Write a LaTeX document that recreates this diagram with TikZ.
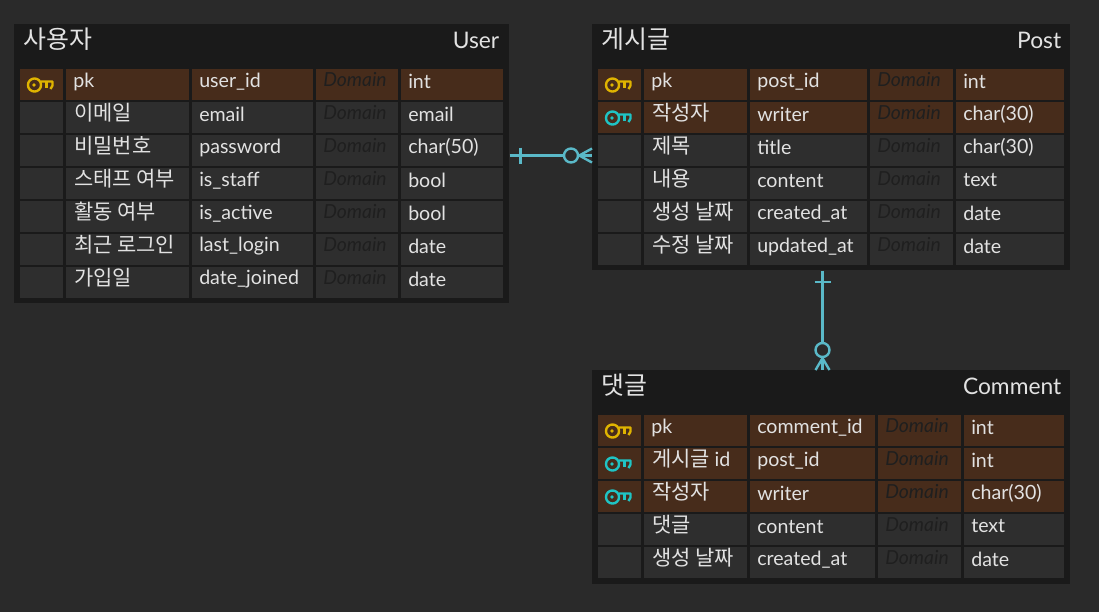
\documentclass[tikz,border=0pt]{standalone}
\usepackage{fontspec}
\setmainfont{Lato}
\newfontfamily\krfont{Noto Sans CJK KR}
\definecolor{bgc}{HTML}{2A2A2A}
\definecolor{framec}{HTML}{1A1A1A}
\definecolor{rowc}{HTML}{2E2E2E}
\definecolor{hic}{HTML}{472C1B}
\definecolor{txtc}{HTML}{E2E2E2}
\definecolor{domc}{HTML}{1F1F1F}
\definecolor{linkc}{HTML}{5AB9C8}
\definecolor{goldc}{HTML}{E0B400}
\definecolor{tealc}{HTML}{1FC4C4}
\newcommand{\latword}[1]{{\rmfamily\fontsize{14.7pt}{16pt}\selectfont #1}}
\tikzset{
  x=0.75pt,y=-0.75pt,
  frame/.style={fill=framec,draw=none,inner sep=0pt,anchor=north west},
  cell/.style={fill=#1,draw=none,inner sep=0pt,outer sep=0pt,anchor=north west,minimum height=23.25pt},
  lat/.style={text=txtc,inner sep=0pt,anchor=west,font=\fontsize{14.7pt}{16pt}\selectfont},
  kor/.style={text=txtc,inner sep=0pt,anchor=west,font=\krfont\fontsize{15.7pt}{16pt}\selectfont},
  dom/.style={text=domc,inner sep=0pt,anchor=west,font=\itshape\fontsize{14.5pt}{16pt}\selectfont},
  titk/.style={text=txtc,inner sep=0pt,anchor=west,font=\krfont\fontsize{18.7pt}{20pt}\selectfont},
  tite/.style={text=txtc,inner sep=0pt,anchor=east,font=\fontsize{17.1pt}{20pt}\selectfont},
  link/.style={draw=linkc,line width=1.8pt},
  keyline/.style={line width=1.8pt,line join=round},
}
% \keyicon{colour}{x}{y}: x,y = left of the bow, centre height
\newcommand{\keyicon}[3]{%
  \begin{scope}[shift={(#2,#3)},draw=#1,keyline]
    \draw (7.5,0) circle [radius=4.9pt];
    \fill[#1] (7,0) circle [radius=1.4pt];
    \draw (14,-3.5) -- (25.5,-3.5) -- (25.5,0.5) -- (23.5,4);
    \draw (19.5,-3.5) -- (19.5,2.5);
  \end{scope}}
% \tblrow{id}{y}{rowfill}{korean}{english}{type}
\newcommand{\tblrow}[6]{%
  \node[cell=#3,minimum width=\cwa*0.75pt] (#1-key) at (\cxa,#2) {};
  \node[cell=#3,minimum width=\cwb*0.75pt] (#1-log) at (\cxb,#2) {};
  \node[cell=#3,minimum width=\cwc*0.75pt] (#1-phy) at (\cxc,#2) {};
  \node[cell=#3,minimum width=\cwd*0.75pt] (#1-dom) at (\cxd,#2) {};
  \node[cell=#3,minimum width=\cwe*0.75pt] (#1-typ) at (\cxe,#2) {};
  \node[kor] (#1-kt) at (\cxb+8,#2+11) {#4};
  \node[lat] (#1-et) at (\cxc+7,#2+12.5) {#5};
  \node[dom] (#1-dt) at (\cxd+7,#2+11) {Domain};
  \node[lat] (#1-tt) at (\cxe+7,#2+12) {#6};
}
% a row whose logical name is the Latin word "pk"
\newcommand{\pkrow}[5]{%
  \tblrow{#1}{#2}{#3}{}{#4}{#5}
  \node[lat] (#1-pk) at (\cxb+7,#2+12.5) {pk};
}
\newcommand{\setcols}[5]{%
  \def\cxa{#1}\def\cxb{#2}\def\cxc{#3}\def\cxd{#4}\def\cxe{#5}%
}
\newcommand{\setwidths}[5]{%
  \def\cwa{#1}\def\cwb{#2}\def\cwc{#3}\def\cwd{#4}\def\cwe{#5}%
}
\begin{document}
\begin{tikzpicture}
\useasboundingbox (0,0) rectangle (1099,612);
\fill[bgc] (0,0) rectangle (1099,612);

% ---------- User
\node[frame,minimum width=371.25pt,minimum height=209.25pt] (user) at (14,24) {};
\node[titk] (user-tk) at (23,39) {사용자};
\node[tite] (user-te) at (499.5,40) {User};
\setcols{20}{66}{192}{316}{401}\setwidths{43}{123}{121}{82}{102}
\pkrow{u1}{69}{hic}{user\_id}{int}
\tblrow{u2}{102}{rowc}{이메일}{email}{email}
\tblrow{u3}{135}{rowc}{비밀번호}{password}{char(50)}
\tblrow{u4}{168}{rowc}{스태프 여부}{is\_staff}{bool}
\tblrow{u5}{201}{rowc}{활동 여부}{is\_active}{bool}
\tblrow{u6}{234}{rowc}{최근 로그인}{last\_login}{date}
\tblrow{u7}{267}{rowc}{가입일}{date\_joined}{date}
\keyicon{goldc}{27}{85}

% ---------- Post
\node[frame,minimum width=358.5pt,minimum height=184.5pt] (post) at (592,24) {};
\node[titk] (post-tk) at (601,39) {게시글};
\node[tite] (post-te) at (1061.5,40) {Post};
\setcols{598}{644}{750}{870}{956}\setwidths{43}{103}{117}{83}{108}
\pkrow{p1}{69}{hic}{post\_id}{int}
\tblrow{p2}{102}{hic}{작성자}{writer}{char(30)}
\tblrow{p3}{135}{rowc}{제목}{title}{char(30)}
\tblrow{p4}{168}{rowc}{내용}{content}{text}
\tblrow{p5}{201}{rowc}{생성 날짜}{created\_at}{date}
\tblrow{p6}{234}{rowc}{수정 날짜}{updated\_at}{date}
\keyicon{goldc}{605}{85}
\keyicon{tealc}{605}{118}

% ---------- Comment
\node[frame,minimum width=358.5pt,minimum height=160.5pt] (comment) at (592,370) {};
\node[titk] (comment-tk) at (601,385) {댓글};
\node[tite] (comment-te) at (1061.5,386) {Comment};
\setcols{598}{644}{750}{878}{964}\setwidths{43}{103}{125}{83}{100}
\pkrow{c1}{415}{hic}{comment\_id}{int}
\tblrow{c2}{448}{hic}{게시글 \latword{id}}{post\_id}{int}
\tblrow{c3}{481}{hic}{작성자}{writer}{char(30)}
\tblrow{c4}{514}{rowc}{댓글}{content}{text}
\tblrow{c5}{547}{rowc}{생성 날짜}{created\_at}{date}
\keyicon{goldc}{605}{431}
\keyicon{tealc}{605}{464}
\keyicon{tealc}{605}{497}

% ---------- Relation User - Post
\coordinate (r1a) at (user.east |- 0,155.5);
\coordinate (r1b) at (post.west |- 0,155.5);
\node[circle,draw=linkc,line width=1.8pt,minimum size=10.5pt,inner sep=0pt] (r1o) at (571,155.5) {};
\coordinate (r1bar) at (520.5,155.5);
\draw[link] (r1a) -- (r1o.west);
\draw[link] ([yshift=6pt]r1bar) -- ([yshift=-6pt]r1bar);
\draw[link] (r1o.east) -- (r1b);
\draw[link] (r1o.east) -- ([yshift=5.25pt]r1b);
\draw[link] (r1o.east) -- ([yshift=-5.25pt]r1b);

% ---------- Relation Post - Comment
\coordinate (r2a) at (post.south -| 822.5,0);
\coordinate (r2b) at (comment.north -| 822.5,0);
\node[circle,draw=linkc,line width=1.8pt,minimum size=10.5pt,inner sep=0pt] (r2o) at (822.5,350) {};
\coordinate (r2bar) at (822.5,282);
\draw[link] (r2a) -- (r2o.north);
\draw[link] ([xshift=-6pt]r2bar) -- ([xshift=6pt]r2bar);
\draw[link] (r2o.south) -- (r2b);
\draw[link] (r2o.south) -- ([xshift=-5.25pt]r2b);
\draw[link] (r2o.south) -- ([xshift=5.25pt]r2b);
\end{tikzpicture}
\end{document}
